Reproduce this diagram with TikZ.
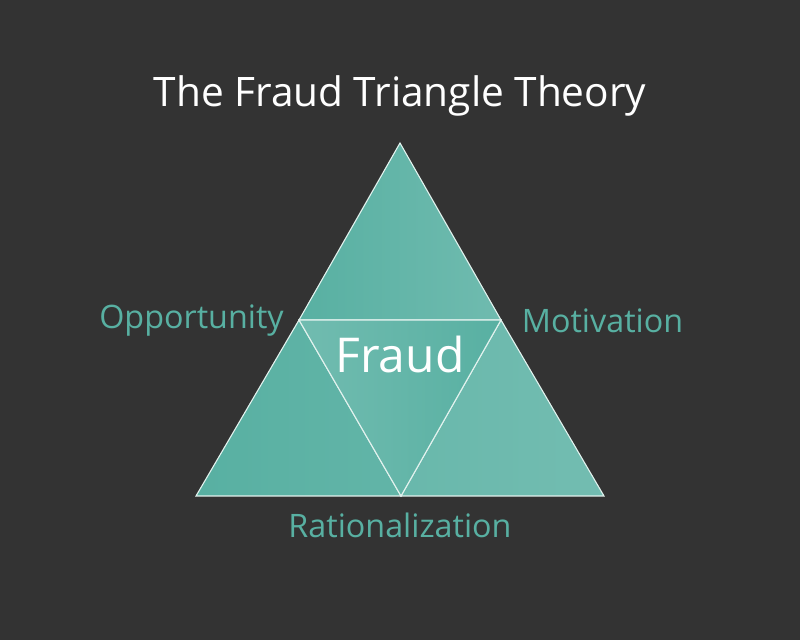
\documentclass[tikz,border=0pt]{standalone}
\usepackage{fontspec}
\setmainfont{Open Sans}
\definecolor{bgColor}{RGB}{51,51,51}
\definecolor{labelColor}{RGB}{88,176,162}
\definecolor{edgeColor}{RGB}{226,242,238}
\tikzset{
  titleLabel/.style={text=white,inner sep=0pt,outer sep=0pt,font=\fontsize{40.6}{46}\selectfont},
  sideLabel/.style={text=labelColor,inner sep=0pt,outer sep=0pt,font=\fontsize{32.3}{38}\selectfont},
  centreLabel/.style={text=white,inner sep=0pt,outer sep=0pt,font=\fontsize{48}{54}\selectfont},
  triEdge/.style={draw=edgeColor,line width=1.1pt,line join=miter}
}
\begin{document}
\begin{tikzpicture}[x=1pt,y=1pt]
\path[use as bounding box,fill=bgColor] (0,0) rectangle (800,640);

\coordinate (apex) at (400,497);
\coordinate (midLeft) at (299,320);
\coordinate (midRight) at (501,320);
\coordinate (baseLeft) at (196,144);
\coordinate (baseMid) at (401,144);
\coordinate (baseRight) at (604,144);

% four small triangles
\path[triEdge,left color=labelColor,right color=labelColor!86!white] (apex) -- (midRight) -- (midLeft) -- cycle;
\path[triEdge,left color=labelColor,right color=labelColor!94!white] (midLeft) -- (baseMid) -- (baseLeft) -- cycle;
\path[triEdge,left color=labelColor!90!white,right color=labelColor!84!white] (midRight) -- (baseRight) -- (baseMid) -- cycle;
\path[triEdge,left color=labelColor!85!white,right color=labelColor] (midLeft) -- (midRight) -- (baseMid) -- cycle;

\node[titleLabel] (title) at (400,544) {The Fraud Triangle Theory};
\node[centreLabel] (fraud) at (400,285) {Fraud};
\node[sideLabel] (opportunity) at (191.5,319) {Opportunity};
\node[sideLabel] (motivation) at (602.5,319) {Motivation};
\node[sideLabel] (rationalization) at (400,115) {Rationalization};
\end{tikzpicture}
\end{document}
